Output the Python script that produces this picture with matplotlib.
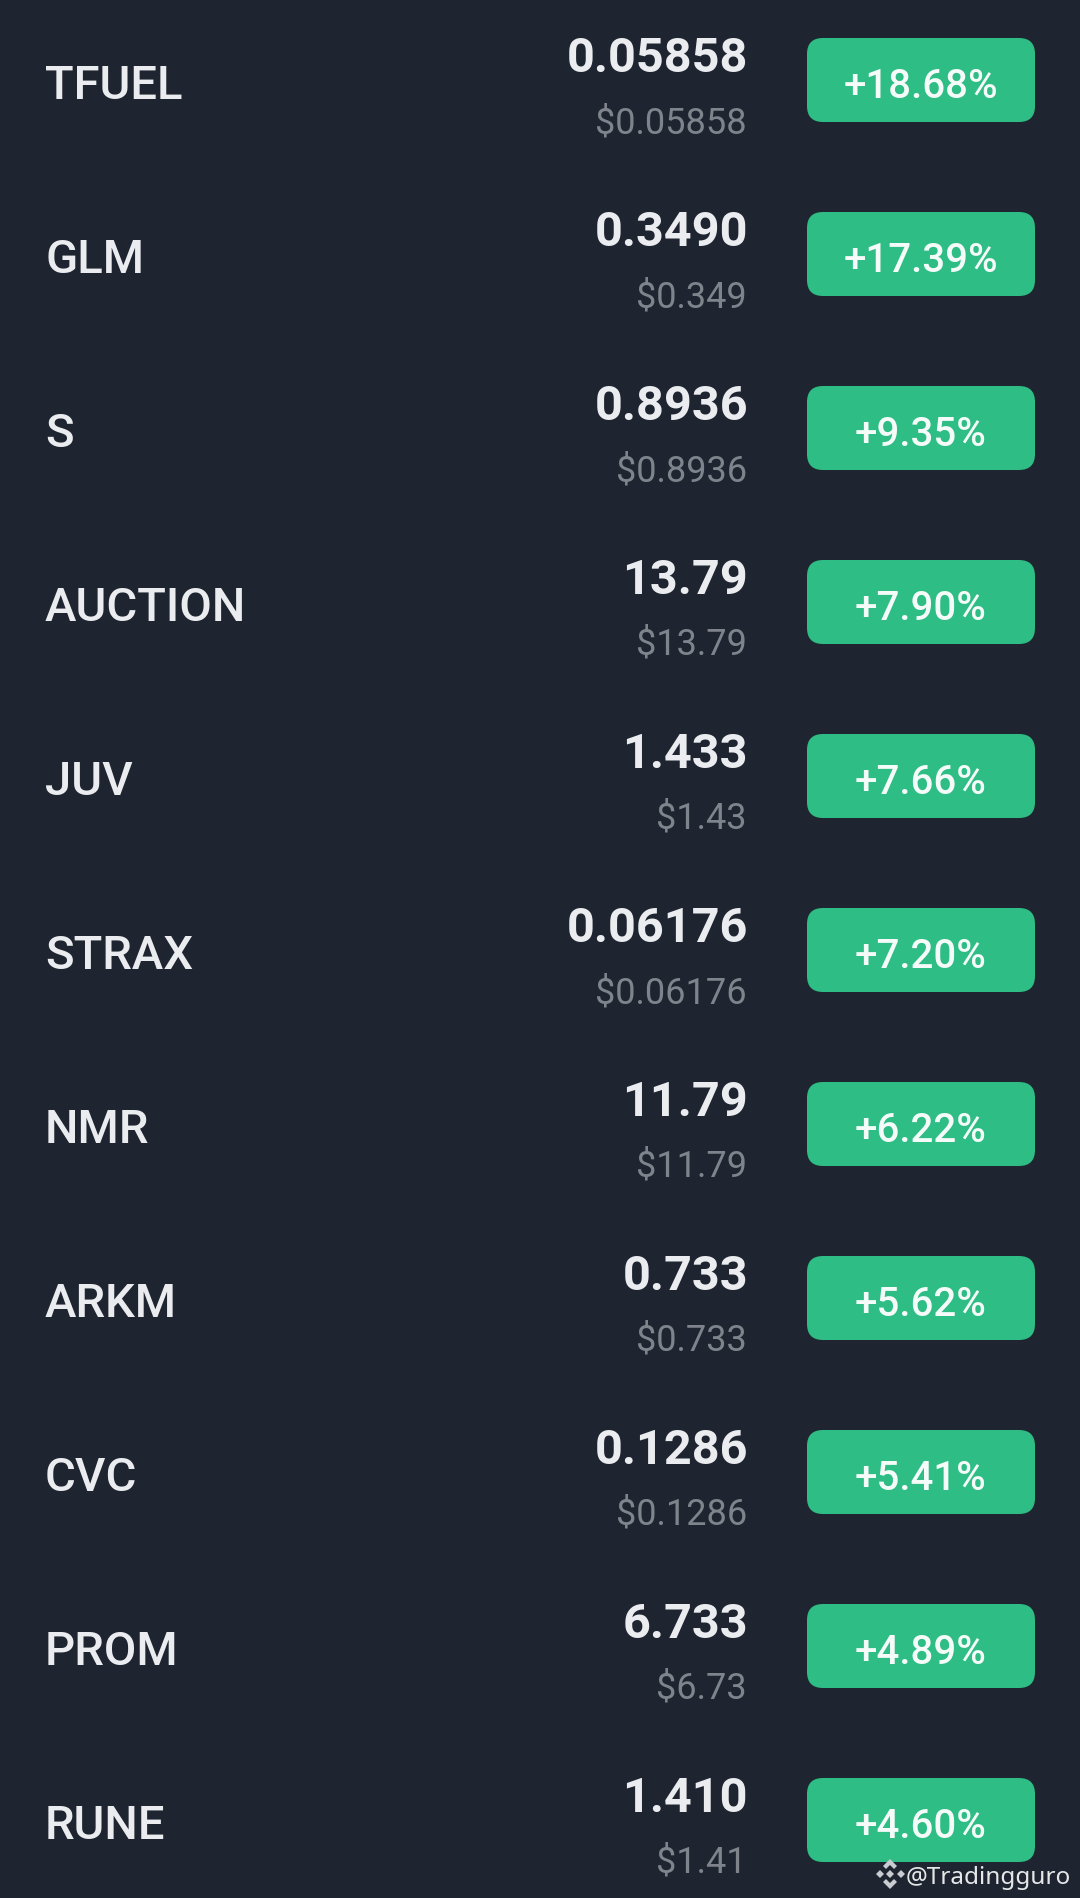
import matplotlib
matplotlib.use('Agg')
import matplotlib.pyplot as plt
from matplotlib.patches import FancyBboxPatch, Polygon

# ticker rows, top to bottom
symbols = ['TFUEL', 'GLM', 'S', 'AUCTION', 'JUV', 'STRAX', 'NMR', 'ARKM', 'CVC', 'PROM', 'RUNE']
prices = ['0.05858', '0.3490', '0.8936', '13.79', '1.433', '0.06176', '11.79', '0.733', '0.1286', '6.733', '1.410']
usd_prices = ['$0.05858', '$0.349', '$0.8936', '$13.79', '$1.43', '$0.06176', '$11.79', '$0.733', '$0.1286', '$6.73', '$1.41']
changes = [18.68, 17.39, 9.35, 7.90, 7.66, 7.20, 6.22, 5.62, 5.41, 4.89, 4.60]

bg = '#1E2530'
green = '#2EBD85'
light = '#EAECEF'
grey = '#7F838B'

fig = plt.figure(figsize=(10.8, 18.98), dpi=100, facecolor=bg)
ax = fig.add_axes([0, 0, 1, 1])
ax.set_xlim(0, 1080)
ax.set_ylim(1898, 0)
ax.axis('off')

pitch = 174
for i in range(len(symbols)):
    off = i * pitch
    ax.text(45, 99 + off, symbols[i], color=light, fontsize=34, family='Roboto', fontweight='medium', va='baseline', ha='left')
    ax.text(748, 72 + off, prices[i], color=light, fontsize=35, family='Roboto', fontweight='bold', va='baseline', ha='right')
    ax.text(747, 133 + off, usd_prices[i], color=grey, fontsize=26, family='Roboto', va='baseline', ha='right')
    badge = FancyBboxPatch((807 + 16, 38 + off + 16), 228 - 32, 84 - 32, boxstyle='round,pad=16,rounding_size=16',
                           fc=green, ec='none', mutation_aspect=1)
    ax.add_patch(badge)
    ax.text(921, 98 + off, '+%.2f%%' % changes[i], color='#F4FBF8', fontsize=29, family='Roboto', fontweight='medium',
            va='baseline', ha='center')

# watermark
logo = '#C9CCD1'
cx, cy = 890, 1874
ax.plot([cx, cx - 10.5, cx + 10.5], [cy, cy, cy], ls='none', marker='D', ms=4.2, color=logo, mew=0)
ax.add_patch(Polygon([(cx, cy - 15), (cx + 7, cy - 8), (cx + 4, cy - 5), (cx, cy - 9), (cx - 4, cy - 5), (cx - 7, cy - 8)], fc=logo, ec='none'))
ax.add_patch(Polygon([(cx, cy + 15), (cx + 7, cy + 8), (cx + 4, cy + 5), (cx, cy + 9), (cx - 4, cy + 5), (cx - 7, cy + 8)], fc=logo, ec='none'))
ax.text(906, 1884, '@Tradingguro', color='#E6E7E9', fontsize=17.5, family='Noto Sans', va='baseline', ha='left')

fig.savefig('out.png', dpi=100, facecolor=bg)
